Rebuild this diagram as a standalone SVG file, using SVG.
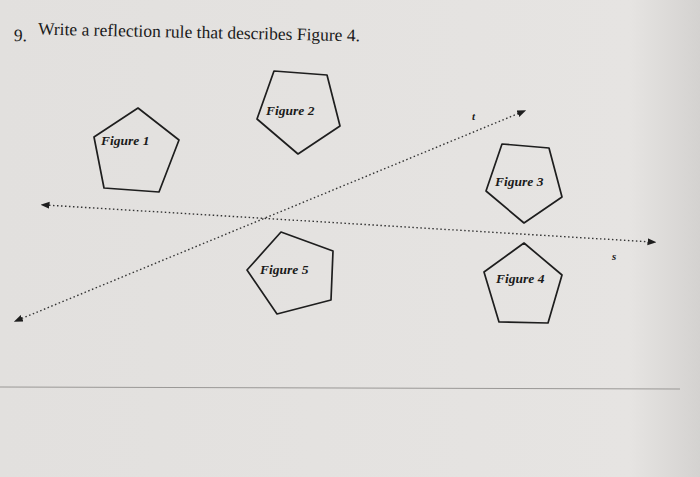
<svg xmlns="http://www.w3.org/2000/svg" width="700" height="477" viewBox="0 0 700 477">
<defs>
<style>
.pg{fill:none;stroke:#1e1e1e;stroke-width:1.7;stroke-linejoin:round}
.lb{font-family:"Liberation Serif",serif;font-style:italic;font-weight:bold;font-size:13.5px;fill:#1a1a1a}
.ln{stroke:#333;stroke-width:1.4;stroke-dasharray:1.5 2.5;fill:none}
.tt{font-family:"Liberation Serif",serif;font-size:17.5px;fill:#1a1a1a}
</style>
<marker id="ah" viewBox="0 0 10 10" refX="5" refY="5" markerWidth="9" markerHeight="9" orient="auto-start-reverse" markerUnits="userSpaceOnUse"><path d="M0,1 L10,5 L0,9 Z" fill="#1e1e1e"/></marker>
<linearGradient id="bg" x1="0" x2="1"><stop offset="0" stop-color="#e2e0de"/><stop offset="0.9" stop-color="#e6e4e2"/><stop offset="1" stop-color="#d4d2d0"/></linearGradient>
</defs>
<rect width="700" height="477" fill="url(#bg)"/>
<g id="title" transform="rotate(1.2 200 35)">
<text class="tt" x="14" y="45">9.</text>
<text class="tt" x="38" y="38">Write a reflection rule that describes Figure 4.</text>
</g>
<g id="connectors">
<line class="ln" x1="45" y1="205" x2="652" y2="242" marker-start="url(#ah)" marker-end="url(#ah)"/>
<line class="ln" x1="18" y1="320" x2="522" y2="112" marker-start="url(#ah)" marker-end="url(#ah)"/>
<text class="lb" x="472" y="120" style="font-size:11px">t</text>
<text class="lb" x="612" y="260" style="font-size:11px">s</text>
</g>
<g id="figure1"><polygon class="pg" points="138,108 179,140 159,192 104,188 94,137"/><text class="lb" x="101" y="145">Figure 1</text></g>
<g id="figure2"><polygon class="pg" points="274,71 327,75 340,126 298,154 257,119"/><text class="lb" x="266" y="115">Figure 2</text></g>
<g id="figure3"><polygon class="pg" points="502,144 549,148 562,197 524,223 486,191"/><text class="lb" x="495" y="186">Figure 3</text></g>
<g id="figure4"><polygon class="pg" points="524,243 562,275 548,323 499,322 484,272"/><text class="lb" x="496" y="283">Figure 4</text></g>
<g id="figure5"><polygon class="pg" points="281,232 333,251 331,300 277,314 247,270"/><text class="lb" x="260" y="274">Figure 5</text></g>
<line x1="0" y1="387" x2="680" y2="389" stroke="#9a9896" stroke-width="1"/>
</svg>
